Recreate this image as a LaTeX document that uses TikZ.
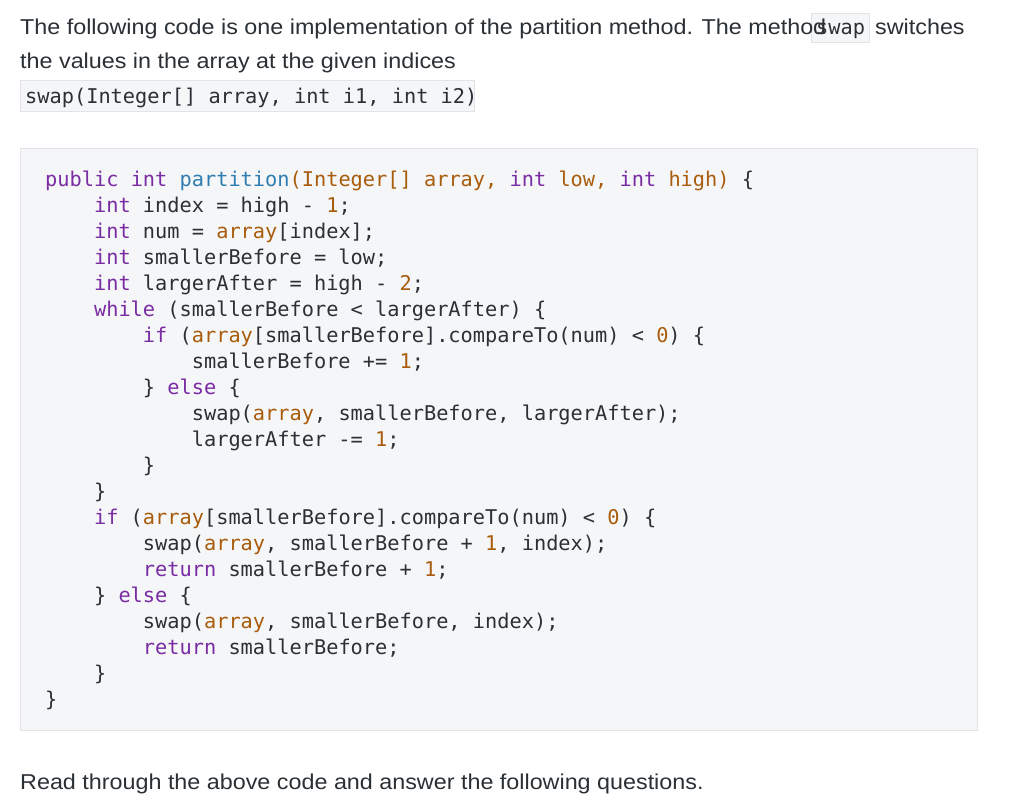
\documentclass[tikz,border=0pt]{standalone}
\usepackage{fontspec}
\setmainfont{Liberation Sans}
\newfontfamily\codefont{DejaVu Sans Mono}
\definecolor{kw}{HTML}{7A2CA3}
\definecolor{fn}{HTML}{2F7DB0}
\definecolor{lit}{HTML}{A85C0C}
\definecolor{txt}{HTML}{2B3035}
\definecolor{boxbg}{HTML}{F5F6F8}
\definecolor{boxln}{HTML}{E0E3E7}
\newcommand{\K}[1]{\textcolor{kw}{#1}}
\newcommand{\F}[1]{\textcolor{fn}{#1}}
\newcommand{\Lt}[1]{\textcolor{lit}{#1}}
\newcommand{\Pw}[1]{\scalebox{1.085}[1]{#1}}
\begin{document}
\begin{tikzpicture}[x=1pt,y=-1pt,
  codeln/.style={anchor=base west,inner sep=0pt,font=\codefont\fontsize{20.3}{21}\selectfont,text=txt},
  prose/.style={anchor=base west,inner sep=0pt,font=\fontsize{21.5}{22}\selectfont,text=txt},
  inl/.style={fill=boxbg,draw=boxln,line width=0.8pt}]
\useasboundingbox[fill=white] (0,0) rectangle (1024,807);
\fill[boxbg] (20,148) rectangle (977,730);
\draw[boxln] (20,148) rectangle (977,730);
\draw[inl] (811,13) rectangle (869,42);
\draw[inl] (20,80) rectangle (474,111);
\node[prose] (p1) at (20,34) {\Pw{The following code is one implementation of the partition method. The method}};
\node[codeln] (s1) at (816,34) {swap};
\node[prose] (p1b) at (875,34) {\Pw{switches}};
\node[prose] (p2) at (20,68) {\Pw{the values in the array at the given indices}};
\node[codeln] (s2) at (25,103) {swap(Integer[] array, int i1, int i2)};
\node[prose] (p3) at (20,789) {\Pw{Read through the above code and answer the following questions.}};
\def\L#1#2#3{\node[codeln] (c#1) at ({45+12.22*#2},{186+26*(#1-1)}) {#3};}
\L{1}{0}{\K{public} \K{int} \F{partition}\Lt{(Integer[]} \Lt{array,} \K{int} \Lt{low,} \K{int} \Lt{high)} \{}
\L{2}{4}{\K{int} index = high - \Lt{1};}
\L{3}{4}{\K{int} num = \Lt{array}[index];}
\L{4}{4}{\K{int} smallerBefore = low;}
\L{5}{4}{\K{int} largerAfter = high - \Lt{2};}
\L{6}{4}{\K{while} (smallerBefore < largerAfter) \{}
\L{7}{8}{\K{if} (\Lt{array}[smallerBefore].compareTo(num) < \Lt{0}) \{}
\L{8}{12}{smallerBefore += \Lt{1};}
\L{9}{8}{\} \K{else} \{}
\L{10}{12}{swap(\Lt{array}, smallerBefore, largerAfter);}
\L{11}{12}{largerAfter -= \Lt{1};}
\L{12}{8}{\}}
\L{13}{4}{\}}
\L{14}{4}{\K{if} (\Lt{array}[smallerBefore].compareTo(num) < \Lt{0}) \{}
\L{15}{8}{swap(\Lt{array}, smallerBefore + \Lt{1}, index);}
\L{16}{8}{\K{return} smallerBefore + \Lt{1};}
\L{17}{4}{\} \K{else} \{}
\L{18}{8}{swap(\Lt{array}, smallerBefore, index);}
\L{19}{8}{\K{return} smallerBefore;}
\L{20}{4}{\}}
\L{21}{0}{\}}
\end{tikzpicture}
\end{document}
